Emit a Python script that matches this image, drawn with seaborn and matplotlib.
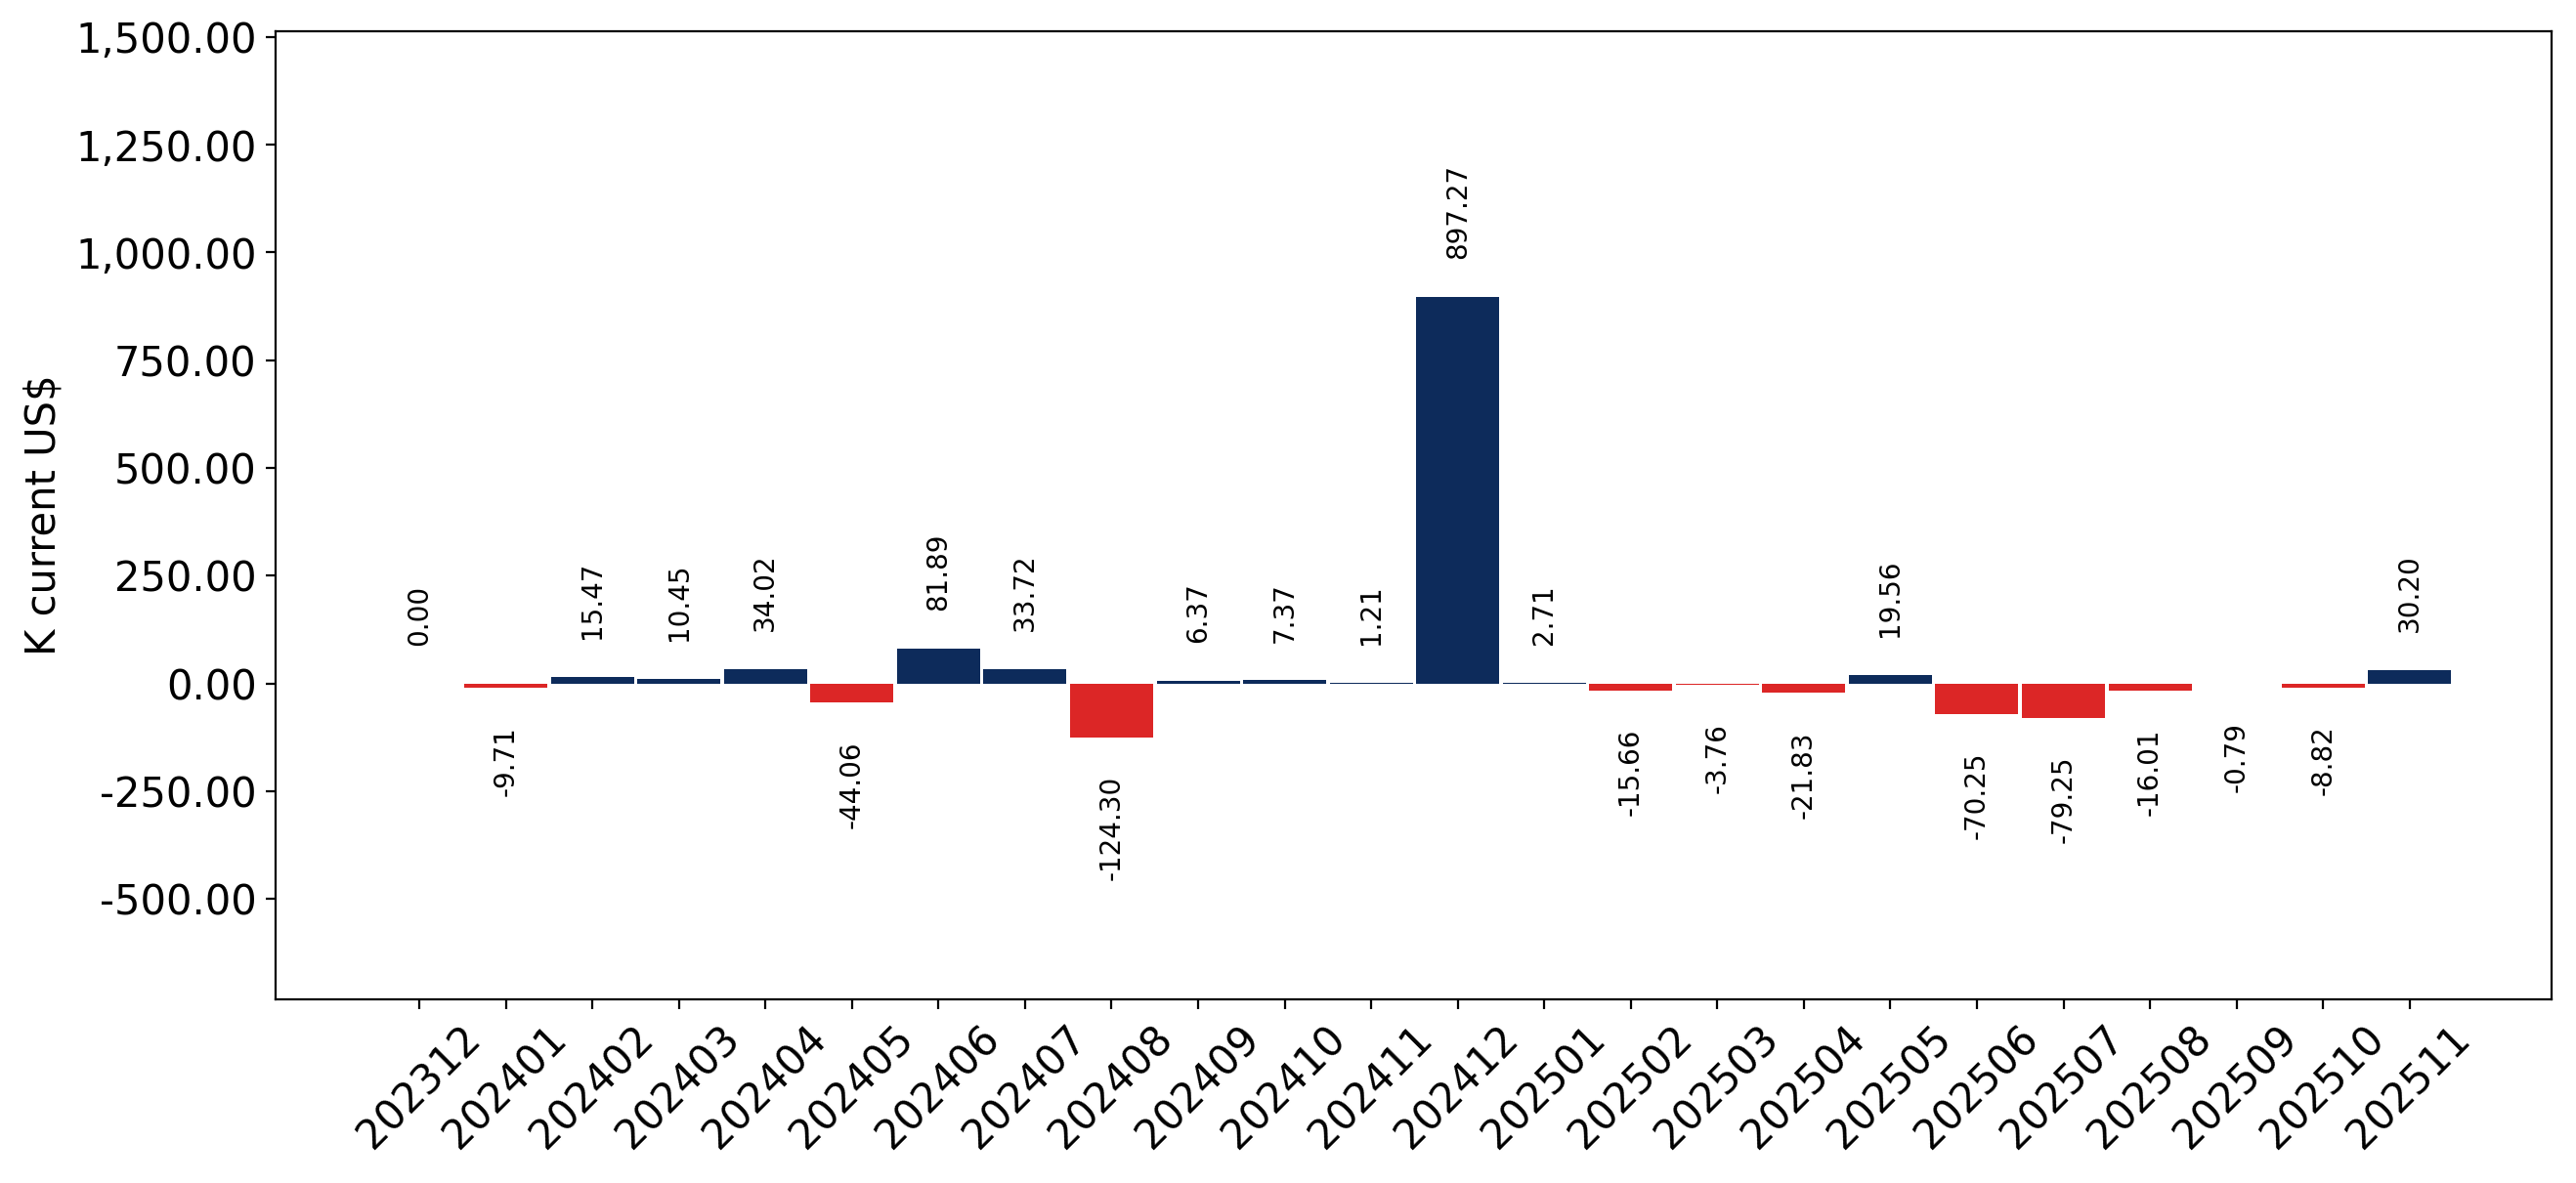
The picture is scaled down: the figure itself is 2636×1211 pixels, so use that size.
import matplotlib
matplotlib.use("Agg")
import matplotlib.pyplot as plt
import matplotlib.ticker as mticker
import seaborn as sns
import pandas as pd

periods = ["202312", "202401", "202402", "202403", "202404", "202405", "202406",
           "202407", "202408", "202409", "202410", "202411", "202412", "202501",
           "202502", "202503", "202504", "202505", "202506", "202507", "202508",
           "202509", "202510", "202511"]
values = [0.00, -9.71, 15.47, 10.45, 34.02, -44.06, 81.89, 33.72, -124.30, 6.37,
          7.37, 1.21, 897.27, 2.71, -15.66, -3.76, -21.83, 19.56, -70.25, -79.25,
          -16.01, -0.79, -8.82, 30.20]
y_label = "K current US$"
pos_color = "#0d2b5b"
neg_color = "#dc2626"

df = pd.DataFrame({"period": periods, "value": values})
palette = [pos_color if v >= 0 else neg_color for v in values]

sns.set_style("ticks")
plt.rcParams.update({
    "text.color": "black", "axes.labelcolor": "black",
    "xtick.color": "black", "ytick.color": "black",
    "axes.edgecolor": "black", "font.family": ["DejaVu Sans"],
})
fig = plt.figure(figsize=(13.18, 6.055), dpi=200)
ax = fig.add_axes([0.107, 0.1555, 0.8835, 0.818])

sns.barplot(data=df, x="period", y="value", hue="period", palette=palette,
            legend=False, width=0.96, saturation=1, edgecolor="none",
            linewidth=0, ax=ax)

for i, v in enumerate(values):
    if v >= 0:
        ax.annotate(f"{v:.2f}", (i, v), xytext=(0, 14), textcoords="offset points",
                    ha="center", va="bottom", rotation=90, fontsize=10, color="black")
    else:
        ax.annotate(f"{v:.2f}", (i, v), xytext=(0, -14), textcoords="offset points",
                    ha="center", va="top", rotation=90, fontsize=10, color="black")

ax.set_xlim(-1.66, 24.64)
ax.set_ylim(-732, 1513)
ax.yaxis.set_major_locator(mticker.FixedLocator([-500, -250, 0, 250, 500, 750, 1000, 1250, 1500]))
ax.yaxis.set_major_formatter(mticker.FuncFormatter(lambda x, p: f"{x:,.2f}"))
ax.set_xlabel("")
ax.set_ylabel(y_label, fontsize=15)
ax.tick_params(axis="both", labelsize=15, colors="black")
plt.setp(ax.get_xticklabels(), rotation=45)
for s in ax.spines.values():
    s.set_visible(True)
    s.set_color("black")

fig.savefig("out.png", dpi=200)
